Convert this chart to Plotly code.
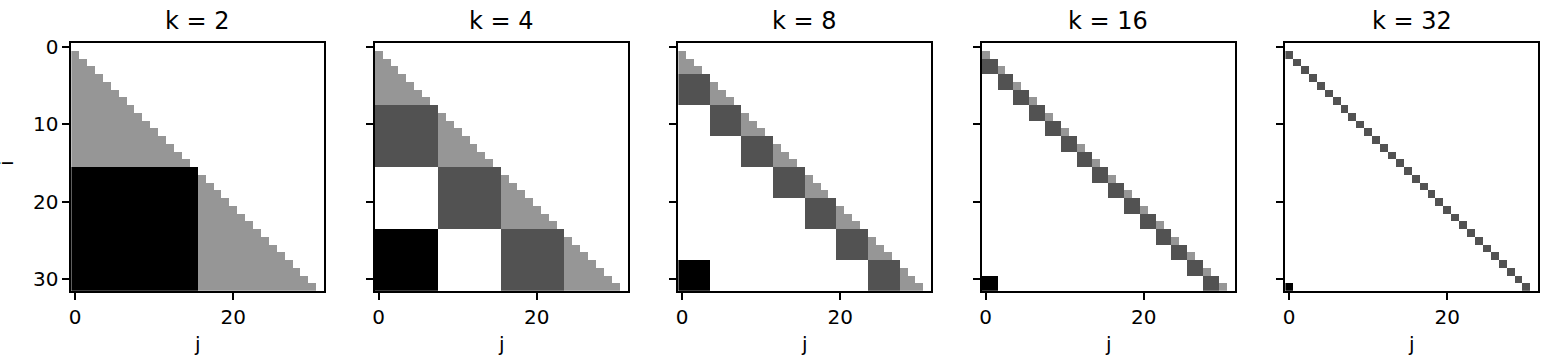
import plotly.graph_objects as go

# ---------------- data ----------------
TITLES = ["k = 2", "k = 4", "k = 8", "k = 16", "k = 32"]
X_TICKS = [0, 20]
Y_TICKS = [0, 10, 20, 30]
X_LABEL = "j"
Y_LABEL = "i"
# level codes: 0 = white, 1 = light grey, 2 = dark grey, 3 = black
LEVEL_COLORS = ["#ffffff", "#969696", "#525252", "#000000"]

MASK_K2 = [
    "00000000 00000000 00000000 00000000",
    "10000000 00000000 00000000 00000000",
    "11000000 00000000 00000000 00000000",
    "11100000 00000000 00000000 00000000",
    "11110000 00000000 00000000 00000000",
    "11111000 00000000 00000000 00000000",
    "11111100 00000000 00000000 00000000",
    "11111110 00000000 00000000 00000000",
    "11111111 00000000 00000000 00000000",
    "11111111 10000000 00000000 00000000",
    "11111111 11000000 00000000 00000000",
    "11111111 11100000 00000000 00000000",
    "11111111 11110000 00000000 00000000",
    "11111111 11111000 00000000 00000000",
    "11111111 11111100 00000000 00000000",
    "11111111 11111110 00000000 00000000",
    "33333333 33333333 00000000 00000000",
    "33333333 33333333 10000000 00000000",
    "33333333 33333333 11000000 00000000",
    "33333333 33333333 11100000 00000000",
    "33333333 33333333 11110000 00000000",
    "33333333 33333333 11111000 00000000",
    "33333333 33333333 11111100 00000000",
    "33333333 33333333 11111110 00000000",
    "33333333 33333333 11111111 00000000",
    "33333333 33333333 11111111 10000000",
    "33333333 33333333 11111111 11000000",
    "33333333 33333333 11111111 11100000",
    "33333333 33333333 11111111 11110000",
    "33333333 33333333 11111111 11111000",
    "33333333 33333333 11111111 11111100",
    "33333333 33333333 11111111 11111110",
]

MASK_K4 = [
    "00000000 00000000 00000000 00000000",
    "10000000 00000000 00000000 00000000",
    "11000000 00000000 00000000 00000000",
    "11100000 00000000 00000000 00000000",
    "11110000 00000000 00000000 00000000",
    "11111000 00000000 00000000 00000000",
    "11111100 00000000 00000000 00000000",
    "11111110 00000000 00000000 00000000",
    "22222222 00000000 00000000 00000000",
    "22222222 10000000 00000000 00000000",
    "22222222 11000000 00000000 00000000",
    "22222222 11100000 00000000 00000000",
    "22222222 11110000 00000000 00000000",
    "22222222 11111000 00000000 00000000",
    "22222222 11111100 00000000 00000000",
    "22222222 11111110 00000000 00000000",
    "00000000 22222222 00000000 00000000",
    "00000000 22222222 10000000 00000000",
    "00000000 22222222 11000000 00000000",
    "00000000 22222222 11100000 00000000",
    "00000000 22222222 11110000 00000000",
    "00000000 22222222 11111000 00000000",
    "00000000 22222222 11111100 00000000",
    "00000000 22222222 11111110 00000000",
    "33333333 00000000 22222222 00000000",
    "33333333 00000000 22222222 10000000",
    "33333333 00000000 22222222 11000000",
    "33333333 00000000 22222222 11100000",
    "33333333 00000000 22222222 11110000",
    "33333333 00000000 22222222 11111000",
    "33333333 00000000 22222222 11111100",
    "33333333 00000000 22222222 11111110",
]

MASK_K8 = [
    "0000 0000 0000 0000 0000 0000 0000 0000",
    "1000 0000 0000 0000 0000 0000 0000 0000",
    "1100 0000 0000 0000 0000 0000 0000 0000",
    "1110 0000 0000 0000 0000 0000 0000 0000",
    "2222 0000 0000 0000 0000 0000 0000 0000",
    "2222 1000 0000 0000 0000 0000 0000 0000",
    "2222 1100 0000 0000 0000 0000 0000 0000",
    "2222 1110 0000 0000 0000 0000 0000 0000",
    "0000 2222 0000 0000 0000 0000 0000 0000",
    "0000 2222 1000 0000 0000 0000 0000 0000",
    "0000 2222 1100 0000 0000 0000 0000 0000",
    "0000 2222 1110 0000 0000 0000 0000 0000",
    "0000 0000 2222 0000 0000 0000 0000 0000",
    "0000 0000 2222 1000 0000 0000 0000 0000",
    "0000 0000 2222 1100 0000 0000 0000 0000",
    "0000 0000 2222 1110 0000 0000 0000 0000",
    "0000 0000 0000 2222 0000 0000 0000 0000",
    "0000 0000 0000 2222 1000 0000 0000 0000",
    "0000 0000 0000 2222 1100 0000 0000 0000",
    "0000 0000 0000 2222 1110 0000 0000 0000",
    "0000 0000 0000 0000 2222 0000 0000 0000",
    "0000 0000 0000 0000 2222 1000 0000 0000",
    "0000 0000 0000 0000 2222 1100 0000 0000",
    "0000 0000 0000 0000 2222 1110 0000 0000",
    "0000 0000 0000 0000 0000 2222 0000 0000",
    "0000 0000 0000 0000 0000 2222 1000 0000",
    "0000 0000 0000 0000 0000 2222 1100 0000",
    "0000 0000 0000 0000 0000 2222 1110 0000",
    "3333 0000 0000 0000 0000 0000 2222 0000",
    "3333 0000 0000 0000 0000 0000 2222 1000",
    "3333 0000 0000 0000 0000 0000 2222 1100",
    "3333 0000 0000 0000 0000 0000 2222 1110",
]

MASK_K16 = [
    "00 00 00 00 00 00 00 00 00 00 00 00 00 00 00 00",
    "10 00 00 00 00 00 00 00 00 00 00 00 00 00 00 00",
    "22 00 00 00 00 00 00 00 00 00 00 00 00 00 00 00",
    "22 10 00 00 00 00 00 00 00 00 00 00 00 00 00 00",
    "00 22 00 00 00 00 00 00 00 00 00 00 00 00 00 00",
    "00 22 10 00 00 00 00 00 00 00 00 00 00 00 00 00",
    "00 00 22 00 00 00 00 00 00 00 00 00 00 00 00 00",
    "00 00 22 10 00 00 00 00 00 00 00 00 00 00 00 00",
    "00 00 00 22 00 00 00 00 00 00 00 00 00 00 00 00",
    "00 00 00 22 10 00 00 00 00 00 00 00 00 00 00 00",
    "00 00 00 00 22 00 00 00 00 00 00 00 00 00 00 00",
    "00 00 00 00 22 10 00 00 00 00 00 00 00 00 00 00",
    "00 00 00 00 00 22 00 00 00 00 00 00 00 00 00 00",
    "00 00 00 00 00 22 10 00 00 00 00 00 00 00 00 00",
    "00 00 00 00 00 00 22 00 00 00 00 00 00 00 00 00",
    "00 00 00 00 00 00 22 10 00 00 00 00 00 00 00 00",
    "00 00 00 00 00 00 00 22 00 00 00 00 00 00 00 00",
    "00 00 00 00 00 00 00 22 10 00 00 00 00 00 00 00",
    "00 00 00 00 00 00 00 00 22 00 00 00 00 00 00 00",
    "00 00 00 00 00 00 00 00 22 10 00 00 00 00 00 00",
    "00 00 00 00 00 00 00 00 00 22 00 00 00 00 00 00",
    "00 00 00 00 00 00 00 00 00 22 10 00 00 00 00 00",
    "00 00 00 00 00 00 00 00 00 00 22 00 00 00 00 00",
    "00 00 00 00 00 00 00 00 00 00 22 10 00 00 00 00",
    "00 00 00 00 00 00 00 00 00 00 00 22 00 00 00 00",
    "00 00 00 00 00 00 00 00 00 00 00 22 10 00 00 00",
    "00 00 00 00 00 00 00 00 00 00 00 00 22 00 00 00",
    "00 00 00 00 00 00 00 00 00 00 00 00 22 10 00 00",
    "00 00 00 00 00 00 00 00 00 00 00 00 00 22 00 00",
    "00 00 00 00 00 00 00 00 00 00 00 00 00 22 10 00",
    "33 00 00 00 00 00 00 00 00 00 00 00 00 00 22 00",
    "33 00 00 00 00 00 00 00 00 00 00 00 00 00 22 10",
]

MASK_K32 = [
    "00000000 00000000 00000000 00000000",
    "20000000 00000000 00000000 00000000",
    "02000000 00000000 00000000 00000000",
    "00200000 00000000 00000000 00000000",
    "00020000 00000000 00000000 00000000",
    "00002000 00000000 00000000 00000000",
    "00000200 00000000 00000000 00000000",
    "00000020 00000000 00000000 00000000",
    "00000002 00000000 00000000 00000000",
    "00000000 20000000 00000000 00000000",
    "00000000 02000000 00000000 00000000",
    "00000000 00200000 00000000 00000000",
    "00000000 00020000 00000000 00000000",
    "00000000 00002000 00000000 00000000",
    "00000000 00000200 00000000 00000000",
    "00000000 00000020 00000000 00000000",
    "00000000 00000002 00000000 00000000",
    "00000000 00000000 20000000 00000000",
    "00000000 00000000 02000000 00000000",
    "00000000 00000000 00200000 00000000",
    "00000000 00000000 00020000 00000000",
    "00000000 00000000 00002000 00000000",
    "00000000 00000000 00000200 00000000",
    "00000000 00000000 00000020 00000000",
    "00000000 00000000 00000002 00000000",
    "00000000 00000000 00000000 20000000",
    "00000000 00000000 00000000 02000000",
    "00000000 00000000 00000000 00200000",
    "00000000 00000000 00000000 00020000",
    "00000000 00000000 00000000 00002000",
    "00000000 00000000 00000000 00000200",
    "30000000 00000000 00000000 00000020",
]

MASKS = [MASK_K2, MASK_K4, MASK_K8, MASK_K16, MASK_K32]

# ---------------- layout constants ----------------
W, H = 1541, 357
FONT = "DejaVu Sans"
LEFT0, STEP, PW = 69.3, 303.9, 253.2
TOP, BOTTOM = 36.0, 289.3


def px_x(p):
    return p / W


def px_y(p):
    return 1 - p / H


n_cells = len(MASK_K2)
coords = list(range(n_cells))
colorscale = [[i / (len(LEVEL_COLORS) - 1), c] for i, c in enumerate(LEVEL_COLORS)]

fig = go.Figure()
layout = dict(
    width=W, height=H,
    margin=dict(l=0, r=0, t=0, b=0),
    paper_bgcolor="white", plot_bgcolor="white",
    showlegend=False,
    font=dict(family=FONT, size=20, color="black"),
)
annotations = []

for idx, (title, rows) in enumerate(zip(TITLES, MASKS)):
    z = [[int(c) for c in r.replace(" ", "")] for r in rows]
    n = idx + 1
    xa = "x" if n == 1 else f"x{n}"
    ya = "y" if n == 1 else f"y{n}"
    fig.add_trace(go.Heatmap(
        z=z, x=coords, y=coords, xaxis=xa, yaxis=ya,
        zmin=0, zmax=len(LEVEL_COLORS) - 1, colorscale=colorscale,
        showscale=False, hoverinfo="skip",
    ))
    left = LEFT0 + idx * STEP
    right = left + PW
    common = dict(
        ticks="outside", ticklen=7, tickwidth=1.6, tickcolor="black",
        showline=True, linecolor="black", linewidth=1.6, mirror=True,
        showgrid=False, zeroline=False,
        tickfont=dict(family=FONT, size=20, color="black"),
    )
    layout["xaxis" if n == 1 else f"xaxis{n}"] = dict(
        domain=[px_x(left), px_x(right)], range=[-0.5, n_cells - 0.5],
        anchor=ya, tickmode="array", tickvals=X_TICKS, **common,
    )
    layout["yaxis" if n == 1 else f"yaxis{n}"] = dict(
        domain=[px_y(BOTTOM), px_y(TOP)], range=[n_cells - 0.5, -0.5],
        anchor=xa, tickmode="array", tickvals=Y_TICKS,
        showticklabels=(idx == 0), **common,
    )
    cx = (left + right) / 2
    annotations.append(dict(
        text=title, x=px_x(cx), y=px_y(13), xref="paper", yref="paper",
        xanchor="center", yanchor="middle", showarrow=False,
        font=dict(family=FONT, size=24, color="black"),
    ))
    annotations.append(dict(
        text=X_LABEL, x=px_x(cx), y=px_y(344), xref="paper", yref="paper",
        xanchor="center", yanchor="middle", showarrow=False,
        font=dict(family=FONT, size=20, color="black"),
    ))

annotations.append(dict(
    text=Y_LABEL, x=px_x(4), y=px_y((TOP + BOTTOM) / 2 - 4), xref="paper", yref="paper",
    xanchor="center", yanchor="middle", showarrow=False, textangle=-90,
    font=dict(family=FONT, size=20, color="black"),
))
layout["annotations"] = annotations
fig.update_layout(**layout)
fig.write_html(
    "out.html",
    config={"displayModeBar": False},
    post_script="document.body.style.margin='0';document.body.style.overflow='hidden';",
)
